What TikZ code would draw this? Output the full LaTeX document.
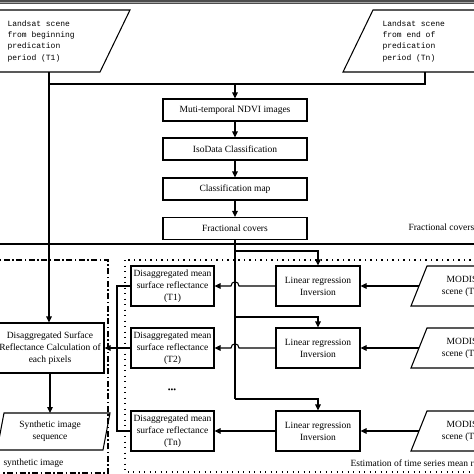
\documentclass[tikz,border=0pt]{standalone}
\usepackage{fontspec}
\setmainfont{Liberation Serif}
\newfontfamily\lmono{Liberation Mono}
\usetikzlibrary{arrows.meta}
\begin{document}
\begin{tikzpicture}[x=1pt,y=-1pt,
  line width=1.05pt,
  arr/.style={-{Triangle[length=6pt,width=5.5pt]}},
  txt/.style={font=\fontsize{9.5}{12}\selectfont,align=center,inner sep=0pt},
  mono/.style={font=\lmono\fontsize{8}{11.3}\selectfont,align=left,inner sep=0pt},
  box/.style={draw,rectangle,inner sep=0pt,txt},
  chainbox/.style={box,minimum width=144pt,minimum height=22pt},
  lrbox/.style={box,minimum width=84pt,minimum height=40pt},
  dmbox/.style={box,minimum width=83pt,minimum height=40pt},
  dashdotbox/.style={line width=1.3pt,dash pattern=on 6pt off 2.5pt on 1.5pt off 2.5pt},
  dotbox/.style={line width=1.1pt,dash pattern=on 1.2pt off 4.3pt},
]
\useasboundingbox (0,0) rectangle (474,474);
\fill[black!70] (0,0) rectangle (474,3.5);
\draw[black!35,line width=0.6pt] (0,1.8) -- (474,1.8);

% Landsat scenes (parallelograms)
\draw (-20,10) -- (130,10) -- (100,72) -- (-50,72) -- cycle;
\node[mono,anchor=west] (t1) at (7,41) {Landsat scene\\from beginning\\predication\\period (T1)};
\draw (373,10) -- (553,10) -- (523,72) -- (343,72) -- cycle;
\node[mono,anchor=west] (tn) at (382,41) {Landsat scene\\from end of\\predication\\period (Tn)};
\coordinate (t1b) at (49,72);
\coordinate (tnb) at (425,72);

% chain
\node[chainbox] (ndvi) at (235,110) {Muti-temporal NDVI images};
\node[chainbox] (iso) at (235,149) {IsoData Classification};
\node[chainbox] (cls) at (235,189) {Classification map};
\node[chainbox] (frac) at (235,228.5) {Fractional covers};

\coordinate (ja) at (49,84);
\coordinate (jb) at (425,84);
\coordinate (jc) at (235,84);
\draw (ja) -- (jb) -- (tnb);
\draw[arr] (jc) -- (ndvi.north);
\draw[arr] (ndvi) -- (iso);
\draw[arr] (iso) -- (cls);
\draw[arr] (cls) -- (frac);

% fractional covers separator
\coordinate (sepL) at (0,244);
\coordinate (sepR) at (474,244);
\draw (sepL) -- (sepR);
\node[txt,anchor=west] (fclab) at (408,227) {Fractional covers};

% regions
\draw[dashdotbox] (-5,260) rectangle (108,473);
\draw[dotbox] (125,260) rectangle (490,472);
\node[txt,anchor=west] (synlab) at (3,463) {synthetic image};
\node[txt,anchor=west] (estlab) at (350,463) {Estimation of time series mean reflectance};

% Linear regression
\node[lrbox] (lr1) at (318,286) {Linear regression\\Inversion};
\node[lrbox] (lr2) at (318,348) {Linear regression\\Inversion};
\node[lrbox] (lrn) at (318,431) {Linear regression\\Inversion};

% MODIS (parallelograms)
\draw (427,266) -- (590,266) -- (574,306) -- (411,306) -- cycle;
\draw (427,328) -- (590,328) -- (574,368) -- (411,368) -- cycle;
\draw (427,411) -- (590,411) -- (574,451) -- (411,451) -- cycle;
\node[txt] (m1) at (462,286) {MODIS\\scene (T1)};
\node[txt] (m2) at (462,348) {MODIS\\scene (T2)};
\node[txt] (mn) at (462,431) {MODIS\\scene (Tn)};
\coordinate (m1w) at (419,286);
\coordinate (m2w) at (419,348);
\coordinate (mnw) at (419,431);
\draw[arr] (m1w) -- (lr1.east);
\draw[arr] (m2w) -- (lr2.east);
\draw[arr] (mnw) -- (lrn.east);

% Disaggregated mean
\node[dmbox] (dm1) at (172.5,286) {Disaggregated mean\\surface reflectance\\(T1)};
\node[dmbox] (dm2) at (172.5,348) {Disaggregated mean\\surface reflectance\\(T2)};
\node[dmbox] (dmn) at (172.5,431) {Disaggregated mean\\surface reflectance\\(Tn)};
\node[txt,font=\fontsize{8}{10}\selectfont] (dots) at (172,391) {•••};

% fractional covers distribution
\coordinate (b1) at (235,251);
\coordinate (b2) at (235,317);
\coordinate (b3) at (235,399);
\draw (frac.south) -- (b3);
\draw[arr] (b1) -- (b1 -| lr1.north) -- (lr1.north);
\draw[arr] (b2) -- (b2 -| lr2.north) -- (lr2.north);
\draw[arr] (b3) -- (b3 -| lrn.north) -- (lrn.north);

% LR -> DM with hops
\draw[arr] (lr1.west) -- (239,286) .. controls (239,280.5) and (231,280.5) .. (231,286) -- (dm1.east);
\draw[arr] (lr2.west) -- (239,348) .. controls (239,342.5) and (231,342.5) .. (231,348) -- (dm2.east);
\draw[arr] (lrn.west) -- (dmn.east);

% big box
\node[box,minimum width=108pt,minimum height=50pt] (big) at (50,348) {Disaggregated Surface\\Reflectance Calculation of\\each pixels};
\coordinate (k1) at (117,286);
\coordinate (k2) at (117,431);
\draw (dm1.west) -- (k1) -- (k2) -- (dmn.west);
\draw[arr] (dm2.west) -- (big.east);
\draw[arr] (t1b) -- (big.north -| t1b);

% synthetic (parallelogram)
\draw (4,413) -- (110,413) -- (103,450) -- (-3,450) -- cycle;
\node[txt] (syn) at (50,431.5) {Synthetic image\\sequence};
\coordinate (synt) at (50,413);
\draw[arr] (big.south) -- (synt);
\end{tikzpicture}
\end{document}
